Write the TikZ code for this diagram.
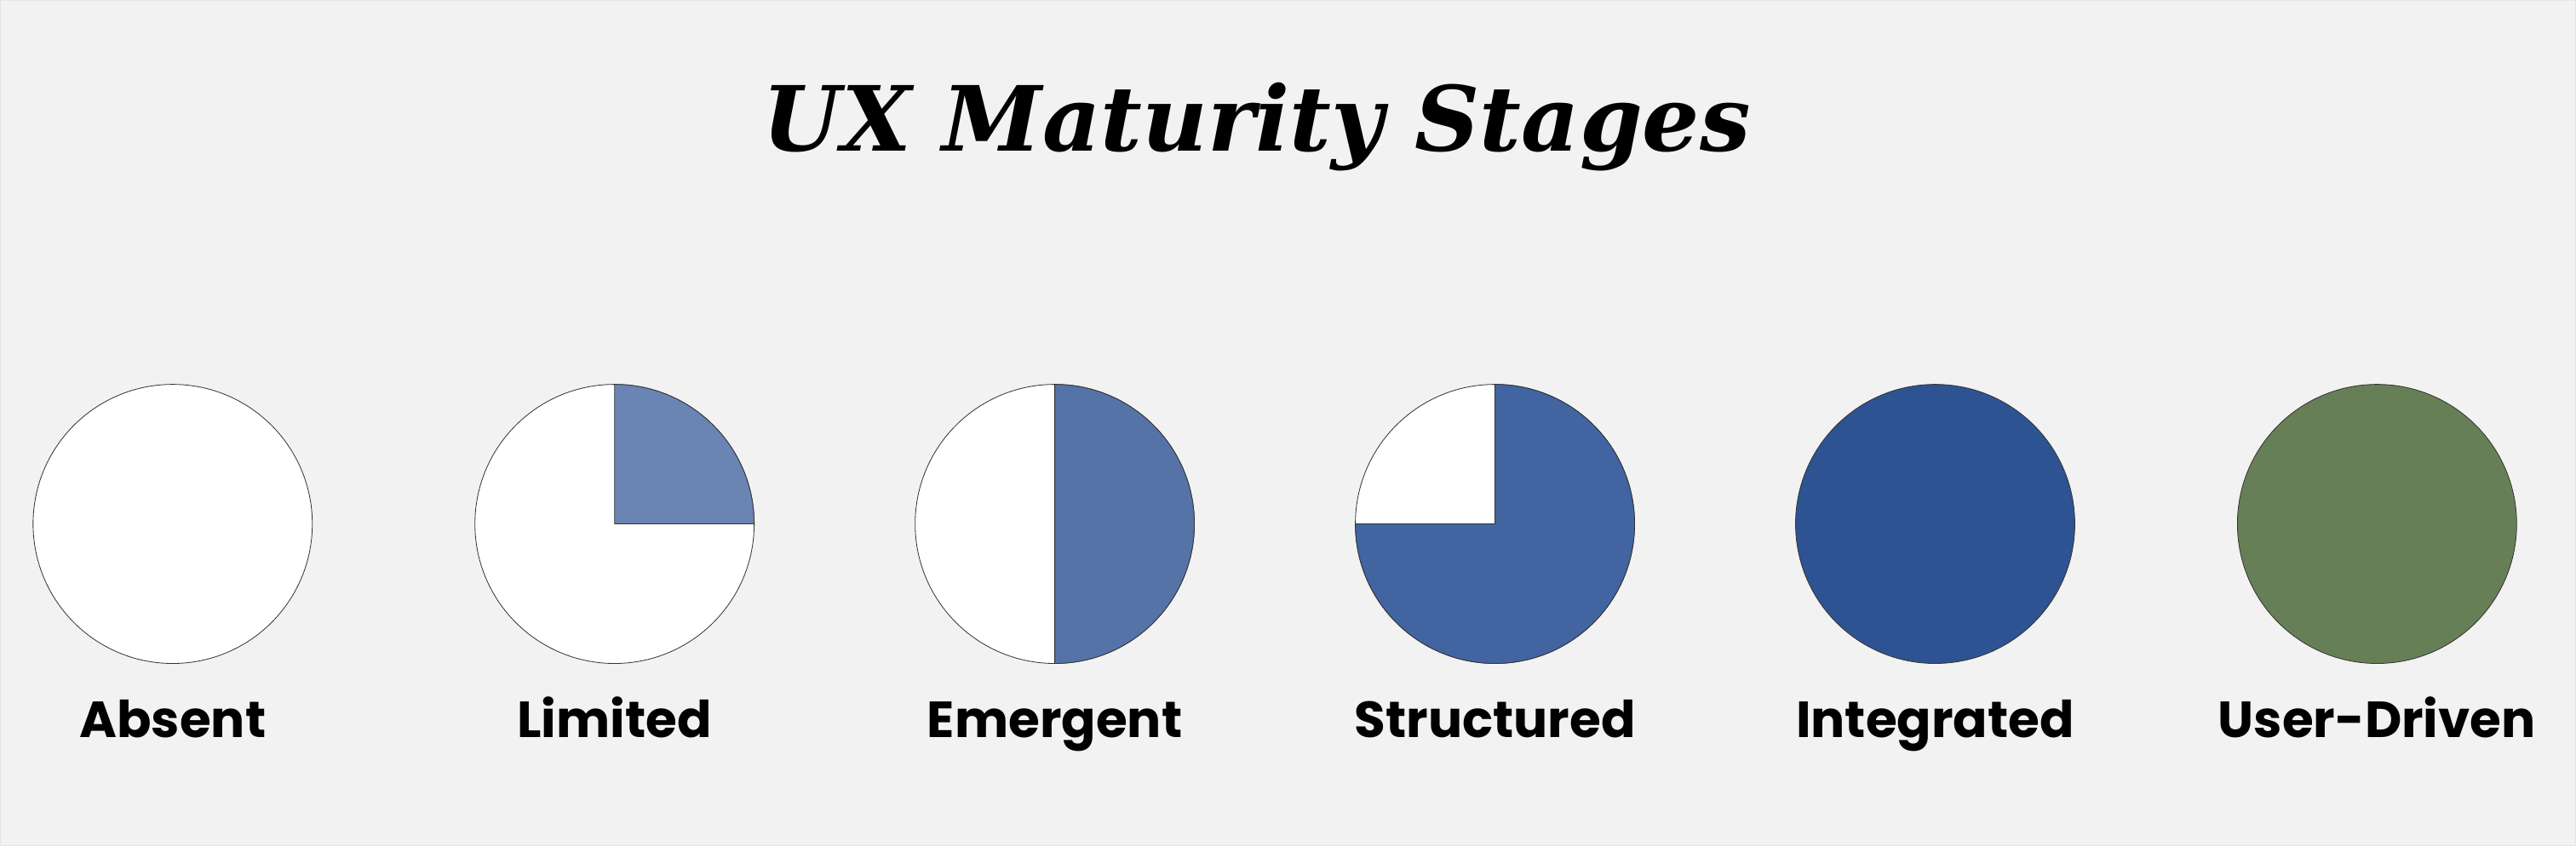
\documentclass[tikz,border=0pt]{standalone}
\usepackage{fontspec}
\setmainfont{Poppins}
\newfontfamily\titlefont{DejaVu Serif}
\definecolor{bg}{HTML}{F2F2F2}
\definecolor{cA}{HTML}{6A84B3}
\definecolor{cB}{HTML}{5673A8}
\definecolor{cC}{HTML}{4264A0}
\definecolor{cD}{HTML}{2E5392}
\definecolor{cE}{HTML}{677F56}
\begin{document}
\begin{tikzpicture}[x=0.05cm,y=0.05cm,
  ring/.style={draw=black!80,line width=0.6pt,fill=white},
  slice/.style={draw=black!80,line width=0.6pt},
  lbl/.style={font=\fontsize{44}{50}\selectfont\bfseries,anchor=base}]
\fill[bg,draw=black!10] (0,0) rectangle (1568,515);
\useasboundingbox (0,0) rectangle (1568,515);
\node[font=\titlefont\fontsize{78}{90}\selectfont\bfseries\itshape] (title) at (765,438) {UX Maturity Stages};
\def\R{85}
% Absent
\draw[ring] (105,196) circle (\R);
% Limited
\draw[ring] (374,196) circle (\R);
\draw[slice,fill=cA] (374,196) -- (374,281) arc (90:0:\R) -- cycle;
% Emergent
\draw[ring] (642,196) circle (\R);
\draw[slice,fill=cB] (642,196) ++(0,85) arc (90:-90:\R) -- cycle;
% Structured
\draw[ring] (910,196) circle (\R);
\draw[slice,fill=cC] (910,196) -- (910,281) arc (90:-180:\R) -- cycle;
% Integrated
\draw[slice,fill=cD] (1178,196) circle (\R);
% User-Driven
\draw[slice,fill=cE] (1447,196) circle (\R);
\node[lbl] (l1) at (105,66) {Absent};
\node[lbl] (l2) at (374,66) {Limited};
\node[lbl] (l3) at (642,66) {Emergent};
\node[lbl] (l4) at (910,66) {Structured};
\node[lbl] (l5) at (1178,66) {Integrated};
\node[lbl] (l6) at (1447,66) {User-Driven};
\end{tikzpicture}
\end{document}
